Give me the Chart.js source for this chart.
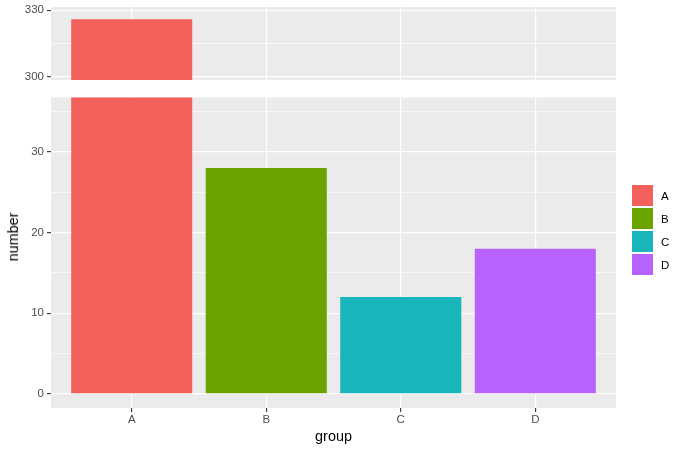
<!DOCTYPE html>
<html>
<head>
<meta charset="utf-8">
<script src="https://cdn.jsdelivr.net/npm/chart.js@4"></script>
<style>
  body { margin: 0; background: #fff; width: 677px; height: 451px; position: relative; overflow: hidden;
         font-family: "Liberation Sans", Arial, sans-serif; }
  #topChart { position: absolute; left: 0; top: 0; }
  #bottomChart { position: absolute; left: 0; top: 90px; }
  #yTitle { position: absolute; left: 13px; top: 237px; transform: translate(-50%, -50%) rotate(-90deg);
            font-size: 14.4px; color: #000; white-space: nowrap; }
  #legend { position: absolute; left: 632px; top: 184px; }
  .item { display: flex; align-items: center; height: 23px; font-size: 11.5px; color: #000; }
  .key { width: 21px; height: 21px; margin-right: 8px; }
</style>
</head>
<body>
<canvas id="topChart" width="677" height="88"></canvas>
<canvas id="bottomChart" width="677" height="361"></canvas>
<div id="yTitle">number</div>
<div id="legend"></div>
<script>
// ---------- DATA ----------
const groups = ["A", "B", "C", "D"];
const numbers = [326, 28, 12, 18];
const barColors = ["#F4605C", "#6BA401", "#18B5BA", "#B963FF"];

// broken y axis: upper panel + lower panel
const topRange = [298.5, 331.5];
const topTicks = [300, 315, 330];
const topLabels = [300, 330];
const bottomRange = [-1.75, 36.75];
const bottomTicks = [0, 5, 10, 15, 20, 25, 30, 35];
const bottomLabels = [0, 10, 20, 30];

// ---------- SHARED BITS ----------
const FONT = "'Liberation Sans', Arial, sans-serif";
const TICK_GREY = "#4D4D4D";

// grey panel behind the grid, like ggplot's theme_grey
const panelBg = {
  id: "panelBg",
  beforeDraw(chart) {
    const { ctx, chartArea: a } = chart;
    ctx.save();
    ctx.fillStyle = "#EBEBEB";
    ctx.fillRect(a.left, a.top, a.right - a.left, a.bottom - a.top);
    ctx.restore();
  }
};

function barData() {
  return {
    datasets: [{
      data: groups.map((g, i) => ({ x: i + 1, y: numbers[i] })),
      backgroundColor: barColors,
      borderWidth: 0,
      barPercentage: 0.9,
      categoryPercentage: 1
    }]
  };
}

function yScale(range, ticks, labels) {
  return {
    min: range[0],
    max: range[1],
    // fixed axis width, and no extra room for half-labels so the panels line up exactly
    afterFit: s => { s.width = 51; s.paddingTop = 0; s.paddingBottom = 0; },
    afterBuildTicks: s => { s.ticks = ticks.map(v => ({ value: v })); },
    border: { display: false },
    grid: {
      color: "#FFFFFF",
      lineWidth: c => labels.includes(c.tick.value) ? 1.2 : 0.6,
      tickColor: c => labels.includes(c.tick.value) ? "#333333" : "rgba(0,0,0,0)",
      tickLength: 4,
      tickWidth: 1.1
    },
    ticks: {
      padding: 3,
      color: TICK_GREY,
      font: { family: FONT, size: 11.5 },
      callback: v => labels.includes(v) ? String(v) : ""
    }
  };
}

// ggplot-style discrete axis: categories at 1..n, 0.6 of a slot padding each side
function xScale(showLabels) {
  return {
    type: "linear",
    min: 0.4,
    max: groups.length + 0.6,
    offset: false,
    afterFit: s => { s.height = showLabels ? 43 : 0; s.paddingLeft = 0; s.paddingRight = 0; },
    afterBuildTicks: s => { s.ticks = groups.map((g, i) => ({ value: i + 1 })); },
    border: { display: false },
    grid: {
      offset: false,
      color: "#FFFFFF",
      lineWidth: 1.2,
      drawTicks: showLabels,
      tickColor: "#333333",
      tickLength: 4,
      tickWidth: 1.1
    },
    ticks: {
      display: showLabels,
      padding: 1,
      color: TICK_GREY,
      font: { family: FONT, size: 11.5 },
      callback: v => groups[Math.round(v) - 1]
    },
    title: {
      display: showLabels,
      text: "group",
      color: "#000000",
      font: { family: FONT, size: 14.4 },
      padding: { top: 0, bottom: 5 }
    }
  };
}

function commonOptions() {
  return {
    responsive: false,
    animation: false,
    plugins: { legend: { display: false }, tooltip: { enabled: false } }
  };
}

// ---------- CHARTS ----------
new Chart(document.getElementById("topChart"), {
  type: "bar",
  data: barData(),
  plugins: [panelBg],
  options: {
    ...commonOptions(),
    layout: { padding: { top: 7, right: 61, bottom: 8, left: 0 } },
    scales: { x: xScale(false), y: yScale(topRange, topTicks, topLabels) }
  }
});

new Chart(document.getElementById("bottomChart"), {
  type: "bar",
  data: barData(),
  plugins: [panelBg],
  options: {
    ...commonOptions(),
    layout: { padding: { top: 7.5, right: 61, bottom: 0, left: 0 } },
    scales: { x: xScale(true), y: yScale(bottomRange, bottomTicks, bottomLabels) }
  }
});

// ---------- LEGEND ----------
const legend = document.getElementById("legend");
groups.forEach((g, i) => {
  const row = document.createElement("div");
  row.className = "item";
  row.innerHTML = `<span class="key" style="background:${barColors[i]}"></span><span>${g}</span>`;
  legend.appendChild(row);
});
</script>
</body>
</html>
